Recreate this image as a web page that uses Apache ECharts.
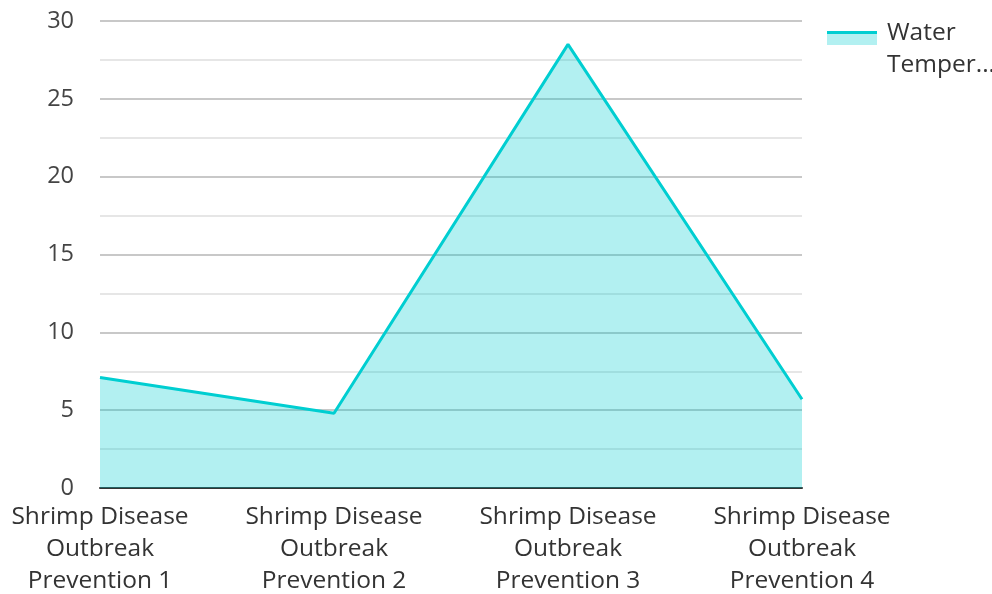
<!DOCTYPE html>
<html><head><meta charset="utf-8">
<script src="https://cdn.jsdelivr.net/npm/echarts@6/dist/echarts.min.js"></script>
<style>html,body{margin:0;padding:0;background:#fff}#c{width:992px;height:594px}</style>
</head><body><div id="c"></div>
<script>
const categories = ['Shrimp Disease\nOutbreak\nPrevention 1','Shrimp Disease\nOutbreak\nPrevention 2','Shrimp Disease\nOutbreak\nPrevention 3','Shrimp Disease\nOutbreak\nPrevention 4'];
const seriesName = 'Water Temperature (°C)';
const values = [7.1, 4.8, 28.5, 5.7];
const chart = echarts.init(document.getElementById('c'));
const font = "'Open Sans', 'Noto Sans', sans-serif";
chart.setOption({
  animation: false,
  textStyle: { fontFamily: font },
  grid: { left: 100, right: 190, top: 21, bottom: 106, outerBoundsMode: 'none', containLabel: false },
  legend: {
    left: 827, top: 17, orient: 'vertical', padding: 0,
    itemWidth: 50, itemHeight: 64, itemGap: 10,
    icon: 'rect',
    itemStyle: {
      color: { type: 'linear', x: 0, y: 0, x2: 0, y2: 1, colorStops: [
        { offset: 0, color: 'rgba(255,255,255,0)' }, { offset: 0.214, color: 'rgba(255,255,255,0)' },
        { offset: 0.214, color: '#00CED1' }, { offset: 0.266, color: '#00CED1' },
        { offset: 0.266, color: '#b2f0f1' }, { offset: 0.433, color: '#b2f0f1' },
        { offset: 0.433, color: 'rgba(255,255,255,0)' }, { offset: 1, color: 'rgba(255,255,255,0)' } ] },
      borderWidth: 0
    },
    formatter: () => 'Water\nTemper...',
    textStyle: { fontSize: 24.5, color: '#333', lineHeight: 32, fontFamily: font, padding: [0, 0, 0, 5] },
    data: [seriesName]
  },
  xAxis: {
    type: 'category', data: categories, boundaryGap: false,
    axisLine: { lineStyle: { color: '#333', width: 2 } },
    axisTick: { show: false },
    axisLabel: { fontSize: 24.5, color: '#333', lineHeight: 32, margin: 13, fontFamily: font, interval: 0 },
    splitLine: { show: false }
  },
  yAxis: {
    type: 'value', min: 0, max: 30, interval: 5,
    axisLine: { show: false }, axisTick: { show: false },
    axisLabel: { fontSize: 23.5, color: '#444', margin: 26, fontFamily: font },
    splitLine: { lineStyle: { color: '#c8c8c8', width: 2 } },
    minorTick: { show: false, splitNumber: 2 },
    minorSplitLine: { show: true, lineStyle: { color: '#e6e6e6', width: 2 } }
  },
  series: [{
    name: seriesName, type: 'line', data: values,
    symbol: 'none', lineStyle: { color: '#00CED1', width: 3 },
    itemStyle: { color: '#00CED1' },
    areaStyle: { color: '#00CED1', opacity: 0.3 }
  }]
});
</script></body></html>
